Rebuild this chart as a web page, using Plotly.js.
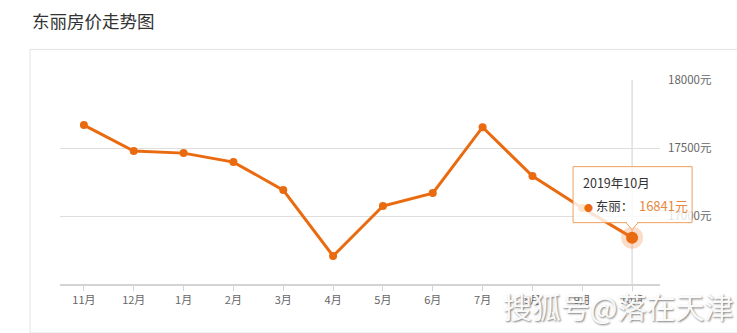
<!DOCTYPE html>
<html><head><meta charset="utf-8">
<script src="https://cdn.plot.ly/plotly-3.0.1.min.js"></script>
<style>html,body{margin:0;padding:0;background:#fff;}#c{width:737px;height:333px;}</style>
</head><body><div id="c"></div>
<script>
const months = ["11月","12月","1月","2月","3月","4月","5月","6月","7月","8月","9月","10月"];
const prices = [17669, 17478, 17463, 17397, 17191, 16706, 17074, 17169, 17654, 17294, 17060, 16841];
const yTicks = [17000, 17500, 18000];
const yTickText = ["17000元", "17500元", "18000元"];
const seriesName = "东丽";
const hoverLabel = "2019年10月";
const title = "东丽房价走势图";
const watermark = "搜狐号@落在天津";

const orange = "#ea6a0f";
const font = "Noto Sans CJK SC, Noto Sans, sans-serif";
const last = months.length - 1;
const xRange = [-0.48, 11.56];
const yRange = [16500, 18001];
// paper-fraction position of the hovered point (so the tooltip is not clipped to the plot area)
const px = (last - xRange[0]) / (xRange[1] - xRange[0]);
const py = (prices[last] - yRange[0]) / (yRange[1] - yRange[0]);

const traces = [
  {x: months, y: prices, type: "scatter", mode: "lines+markers",
   line: {color: orange, width: 3}, marker: {color: orange, size: 8},
   hoverinfo: "skip", cliponaxis: false},
  {x: [months[last]], y: [prices[last]], type: "scatter", mode: "markers",
   marker: {color: "rgba(240,130,60,0.28)", size: 22}, hoverinfo: "skip", cliponaxis: false},
  {x: [months[last]], y: [prices[last]], type: "scatter", mode: "markers",
   marker: {color: orange, size: 12}, hoverinfo: "skip", cliponaxis: false}
];

const tip = {xref: "paper", yref: "paper", xsizemode: "pixel", ysizemode: "pixel",
             xanchor: px, yanchor: py};

const layout = {
  width: 737, height: 333,
  margin: {l: 60, r: 77, t: 80, b: 49},
  paper_bgcolor: "#fff", plot_bgcolor: "rgba(0,0,0,0)",
  showlegend: false,
  font: {family: font, color: "#666", size: 11},
  xaxis: {type: "category", range: xRange, showgrid: false, zeroline: false,
          showline: true, linecolor: "#d4d4d4", linewidth: 2,
          ticks: "outside", ticklen: 5, tickcolor: "#d4d4d4", tickwidth: 1,
          tickfont: {size: 11, color: "#666", family: font}, fixedrange: true},
  yaxis: {range: yRange, side: "right", tickvals: yTicks, ticktext: yTickText,
          showgrid: true, gridcolor: "#dedede", gridwidth: 1, zeroline: false, showline: false,
          ticks: "", ticklabelstandoff: 7,
          tickfont: {size: 11.5, color: "#666", family: font}, fixedrange: true},
  shapes: [
    {type: "rect", xref: "paper", yref: "paper", x0: -0.05, x1: 1.2, y0: -0.24, y1: 1.15,
     line: {color: "#e3e3e3", width: 1}, fillcolor: "rgba(0,0,0,0)", layer: "below"},
    {type: "line", xref: "x", yref: "paper", x0: last, x1: last, y0: 0, y1: 1,
     line: {color: "#cfcfcf", width: 1}, layer: "below"},
    Object.assign({type: "rect", x0: -59, x1: 60, y0: 15, y1: 71,
     line: {color: "#f0a060", width: 1}, fillcolor: "rgba(255,255,255,0.82)"}, tip),
    Object.assign({type: "path", path: "M -6 15 L 0 8 L 6 15",
     line: {color: "#f0a060", width: 1}, fillcolor: "rgba(255,255,255,0.9)"}, tip),
    Object.assign({type: "line", x0: -5, x1: 5, y0: 15, y1: 15,
     line: {color: "#ffffff", width: 1.5}}, tip)
  ],
  annotations: [
    {text: title, xref: "paper", yref: "paper", x: -0.05, y: 1.29, xanchor: "left", yanchor: "middle",
     showarrow: false, font: {size: 17.5, color: "#333", family: font}},
    {text: hoverLabel, xref: "x", yref: "y", x: last, y: prices[last], xshift: -51, yshift: 55,
     xanchor: "left", yanchor: "middle", showarrow: false,
     font: {size: 12.5, color: "#333", family: font}},
    {text: "<span style='color:" + orange + ";font-size:9px'>●</span> " + seriesName +
           "：  <span style='color:#e6893f;font-size:13px'>" + String(prices[last]) + "元</span>",
     xref: "x", yref: "y", x: last, y: prices[last], xshift: -50, yshift: 32,
     xanchor: "left", yanchor: "middle", showarrow: false,
     font: {size: 12.5, color: "#333", family: font}},
    {text: watermark, xref: "paper", yref: "paper", x: 1.125, y: -0.11, xanchor: "right", yanchor: "middle",
     showarrow: false, font: {size: 29, color: "rgba(255,255,255,0.95)", family: font,
     shadow: "1px 1px 2px #777"}}
  ]
};
Plotly.newPlot("c", traces, layout, {displayModeBar: false, staticPlot: true});
</script></body></html>
